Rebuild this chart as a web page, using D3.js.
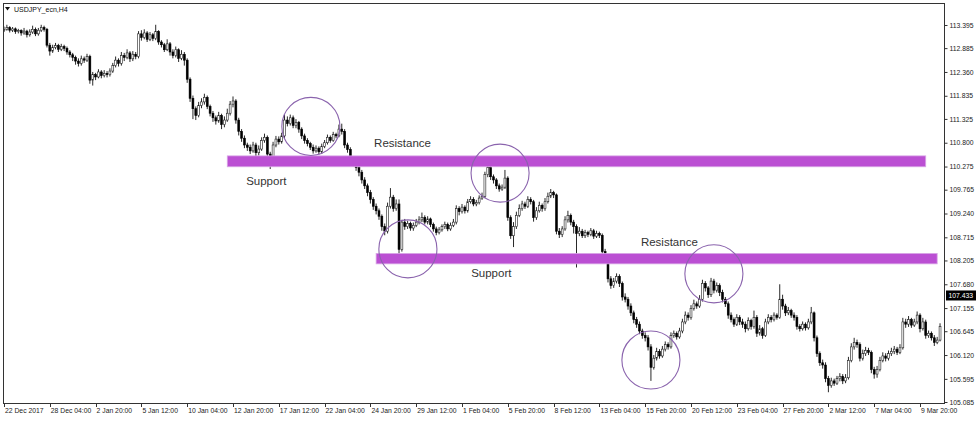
<!DOCTYPE html>
<html>
<head>
<meta charset="utf-8">
<script src="https://cdn.jsdelivr.net/npm/d3@7"></script>
<style>
html,body{margin:0;padding:0;background:#fff;}
svg{display:block;}
</style>
</head>
<body>
<svg id="chart" width="979" height="421"></svg>
<script>
// ---- data (USDJPY_ecn, H4) ----
const symbolTitle = "USDJPY_ecn,H4";
const firstOpen = 113.28;
const closes = [
113.30,113.34,113.28,113.31,113.25,113.27,113.22,113.26,113.18,113.24,
113.30,113.20,113.28,113.34,113.30,112.95,112.82,112.90,112.94,112.86,
112.92,112.88,112.80,112.74,112.68,112.60,112.55,112.65,112.62,112.70,
112.18,112.30,112.25,112.36,112.28,112.33,112.30,112.38,112.50,112.62,
112.55,112.72,112.68,112.78,112.65,112.75,112.70,113.20,113.12,113.22,
113.08,113.18,113.10,113.25,113.02,112.96,112.85,112.98,112.80,112.72,
112.85,112.66,112.75,112.62,112.20,111.78,111.55,111.40,111.62,111.70,
111.80,111.60,111.45,111.35,111.28,111.40,111.20,111.30,111.45,111.65,
111.72,111.30,111.05,110.90,110.75,110.70,110.62,110.75,110.58,110.66,
110.85,110.92,110.55,110.40,110.75,110.88,110.82,110.95,111.30,111.22,
111.35,111.18,111.25,111.10,110.95,110.85,110.78,110.70,110.62,110.68,
110.60,110.72,110.80,110.92,110.85,110.98,110.95,111.10,111.05,110.75,
110.65,110.45,110.35,110.25,110.15,109.98,109.85,109.70,109.55,109.40,
109.30,109.18,108.95,108.85,109.40,109.60,109.35,109.45,108.45,109.05,
108.95,109.02,108.92,108.98,109.05,109.10,109.15,109.05,109.12,109.00,
108.90,108.82,108.88,108.95,109.00,108.90,108.98,109.05,109.35,109.28,
109.38,109.30,109.50,109.55,109.45,109.48,109.58,109.62,110.10,110.25,
110.05,109.98,109.85,109.78,109.82,110.02,109.15,108.75,108.95,109.20,
109.35,109.45,109.40,109.55,109.50,109.15,109.30,109.42,109.35,109.50,
109.62,109.70,109.65,108.85,108.78,108.90,109.10,109.20,109.05,108.95,
108.80,108.85,108.75,108.82,108.78,108.86,108.74,108.80,108.76,108.40,
108.30,107.80,107.65,107.75,107.85,107.70,107.40,107.35,107.20,107.05,
106.90,106.80,106.65,106.55,106.50,106.30,105.85,106.05,106.20,106.10,
106.25,106.35,106.30,106.55,106.60,106.52,106.65,106.85,107.00,106.95,
107.15,107.25,107.20,107.35,107.70,107.60,107.45,107.75,107.55,107.65,
107.50,107.35,107.25,107.00,106.90,106.80,106.95,106.85,106.80,106.70,
106.88,106.75,106.95,106.60,106.70,106.55,106.85,106.95,106.90,107.00,
106.95,107.35,107.20,107.05,107.10,107.00,106.95,106.75,106.70,106.80,
106.72,106.85,107.05,106.50,106.15,105.95,105.90,105.60,105.45,105.55,
105.50,105.60,105.65,105.55,105.62,106.00,106.30,106.40,106.35,106.05,
106.15,106.22,106.18,105.80,105.70,105.80,106.00,106.10,106.05,106.15,
106.20,106.25,106.18,106.28,106.85,106.80,106.90,106.78,106.85,107.00,
106.70,106.85,106.55,106.60,106.50,106.40,106.45,106.75
];
const highs = [
113.36,113.40,113.37,113.35,113.34,113.31,113.30,113.33,113.29,113.30,
113.38,113.34,113.33,113.40,113.38,113.33,113.00,112.96,113.00,112.98,
112.98,112.96,112.92,112.84,112.78,112.72,112.66,112.72,112.70,112.76,
112.74,112.36,112.34,112.42,112.40,112.40,112.38,112.44,112.56,112.70,
112.66,112.80,112.78,112.86,112.82,112.82,112.80,113.26,113.28,113.30,
113.26,113.24,113.22,113.40,113.28,113.06,113.00,113.08,113.02,112.86,
112.92,112.88,112.84,112.80,112.66,112.24,111.84,111.60,111.70,111.78,
111.88,111.84,111.64,111.50,111.40,111.48,111.44,111.38,111.55,111.72,
111.82,111.76,111.35,111.10,110.96,110.80,110.76,110.82,110.80,110.74,
110.92,111.00,110.96,110.60,110.82,110.95,110.94,111.02,111.42,111.38,
111.42,111.40,111.32,111.28,111.14,111.00,110.90,110.82,110.76,110.74,
110.72,110.78,110.86,110.98,110.96,111.04,111.02,111.20,111.22,111.10,
110.80,110.70,110.50,110.40,110.30,110.20,110.04,109.90,109.76,109.60,
109.46,109.35,109.22,109.02,109.48,109.80,109.65,109.55,109.55,109.10,
109.12,109.08,109.06,109.04,109.12,109.18,109.26,109.20,109.18,109.15,
109.04,108.95,108.94,109.00,109.06,109.04,109.04,109.12,109.42,109.40,
109.45,109.42,109.56,109.62,109.60,109.54,109.64,109.70,110.16,110.40,
110.30,110.10,110.02,109.90,109.88,110.20,110.06,109.20,109.05,109.28,
109.44,109.52,109.50,109.62,109.60,109.54,109.38,109.50,109.46,109.58,
109.70,109.78,109.74,109.68,108.92,108.96,109.18,109.30,109.24,109.10,
109.00,108.94,108.90,108.88,108.86,108.92,108.90,108.86,108.84,108.80,
108.46,108.34,107.86,107.82,107.92,107.90,107.74,107.48,107.40,107.26,
107.10,106.96,106.86,106.70,106.62,106.56,106.36,106.12,106.28,106.25,
106.32,106.42,106.40,106.62,106.66,106.64,106.72,106.92,107.08,107.06,
107.22,107.34,107.30,107.44,107.78,107.75,107.64,107.82,107.80,107.72,
107.70,107.56,107.40,107.30,107.06,106.95,107.02,107.00,106.92,106.86,
106.95,106.92,107.10,107.00,106.78,106.74,106.92,107.02,107.00,107.06,
107.04,107.68,107.45,107.25,107.18,107.14,107.06,107.00,106.80,106.86,
106.84,106.92,107.18,107.08,106.55,106.20,106.02,105.96,105.66,105.62,
105.60,105.66,105.72,105.70,105.70,106.08,106.38,106.50,106.46,106.40,
106.24,106.30,106.28,106.22,105.86,105.88,106.08,106.18,106.16,106.22,
106.28,106.32,106.30,106.36,106.94,106.92,106.98,106.94,106.92,107.08,
107.04,106.94,106.90,106.66,106.64,106.56,106.52,106.82
];
const lows = [
113.24,113.27,113.23,113.24,113.20,113.21,113.16,113.18,113.12,113.14,
113.20,113.15,113.16,113.24,113.25,112.90,112.72,112.78,112.86,112.80,
112.82,112.82,112.74,112.68,112.60,112.52,112.48,112.50,112.56,112.58,
112.10,112.06,112.18,112.22,112.22,112.24,112.24,112.26,112.34,112.46,
112.48,112.50,112.60,112.64,112.58,112.60,112.64,112.66,113.05,113.08,
113.02,113.04,113.04,113.06,112.96,112.90,112.80,112.82,112.72,112.66,
112.68,112.58,112.62,112.50,112.12,111.70,111.32,111.30,111.36,111.56,
111.64,111.54,111.38,111.26,111.20,111.24,111.10,111.14,111.26,111.40,
111.58,111.22,110.96,110.82,110.68,110.62,110.55,110.58,110.50,110.52,
110.62,110.80,110.48,110.22,110.36,110.70,110.76,110.78,110.90,111.16,
111.18,111.12,111.12,111.02,110.88,110.78,110.72,110.64,110.56,110.58,
110.54,110.56,110.68,110.76,110.80,110.82,110.90,110.92,110.98,110.68,
110.58,110.38,110.28,110.18,110.06,109.90,109.78,109.62,109.46,109.32,
109.22,109.10,108.86,108.76,108.80,109.35,109.28,109.30,108.30,108.40,
108.88,108.90,108.86,108.86,108.94,109.00,109.05,109.00,109.00,108.94,
108.84,108.76,108.78,108.84,108.90,108.85,108.86,108.94,109.00,109.20,
109.24,109.24,109.26,109.46,109.40,109.40,109.44,109.54,109.58,110.04,
109.98,109.90,109.78,109.72,109.74,109.78,109.08,108.68,108.50,108.90,
109.16,109.30,109.34,109.36,109.44,109.06,109.10,109.26,109.28,109.30,
109.46,109.58,109.58,108.78,108.70,108.72,108.86,109.04,108.98,108.80,
108.05,108.74,108.70,108.70,108.72,108.74,108.68,108.70,108.70,108.32,
108.20,107.72,107.58,107.60,107.70,107.62,107.32,107.28,107.12,106.98,
106.82,106.72,106.58,106.48,106.42,106.22,105.55,105.80,106.00,106.04,
106.06,106.20,106.24,106.26,106.50,106.46,106.48,106.60,106.80,106.88,
106.90,107.10,107.14,107.16,107.30,107.52,107.38,107.40,107.48,107.50,
107.42,107.28,107.18,106.92,106.84,106.74,106.76,106.78,106.72,106.62,
106.66,106.68,106.70,106.52,106.55,106.48,106.52,106.80,106.84,106.86,
106.90,106.92,107.12,106.98,107.00,106.94,106.88,106.68,106.64,106.66,
106.66,106.68,106.80,106.42,106.08,105.88,105.82,105.52,105.30,105.40,
105.44,105.46,105.54,105.48,105.50,105.58,105.96,106.24,106.28,105.98,
106.00,106.10,106.12,105.72,105.60,105.62,105.76,105.96,105.98,106.00,
106.10,106.14,106.12,106.14,106.24,106.72,106.74,106.72,106.74,106.80,
106.62,106.66,106.48,106.50,106.44,106.32,106.36,106.42
];
const yTickValues = [113.395,112.885,112.360,111.835,111.325,110.800,110.275,109.765,109.240,108.715,108.205,107.680,107.155,106.645,106.120,105.595,105.085];
const xTickLabels = ["22 Dec 2017","28 Dec 04:00","2 Jan 20:00","5 Jan 12:00","10 Jan 04:00","12 Jan 20:00","17 Jan 12:00","22 Jan 04:00","24 Jan 20:00","29 Jan 12:00","1 Feb 04:00","5 Feb 20:00","8 Feb 12:00","13 Feb 04:00","15 Feb 20:00","20 Feb 12:00","23 Feb 04:00","27 Feb 20:00","2 Mar 12:00","7 Mar 04:00","9 Mar 20:00"];
const barsPerLabel = 16;
const lastPrice = 107.433;
// support / resistance zones: [price low, price high], start / end bars
const zonePrices = [[110.27, 110.51], [108.13, 108.36]];
const zoneStartBars = [78, 130];
const zoneEndBars = [322, 326];
const annotations = [
  {text:"Resistance", bar:129.3, price:110.70},
  {text:"Support", bar:84.6, price:109.86},
  {text:"Support", bar:163.2, price:107.85},
  {text:"Resistance", bar:222.5, price:108.52}
];
// circled turning points: [bar, price]
const circleCenters = [[107.2, 111.16], [141.1, 108.46], [173.3, 110.13], [226, 106.01], [248, 107.91]];

// ---- drawing ----
(function draw() {
const svg = d3.select("#chart");
const W = 979, H = 421;
const pLeft = 3, pRight = 944, pTop = 3, pBottom = 403;
const fontFam = "'Liberation Sans', Arial, sans-serif";

svg.append("rect").attr("width", W).attr("height", H).attr("fill", "#fff");

const x = d3.scaleLinear().domain([0, 320]).range([4, 920]);
const y = d3.scaleLinear().domain([105.085, 113.395]).range([402, 25]);
const pxPerUnit = y(105) - y(106);

const opens = closes.map((c, i) => i === 0 ? firstOpen : closes[i - 1]);
const bars = closes.map((c, i) => ({i, o: opens[i], h: highs[i], l: lows[i], c}));

svg.append("defs").append("clipPath").attr("id", "plotclip")
  .append("rect").attr("x", pLeft).attr("y", pTop).attr("width", pRight - pLeft).attr("height", pBottom - pTop);

const plot = svg.append("g").attr("clip-path", "url(#plotclip)");

// candles
const g = plot.append("g");
g.selectAll("line.wick").data(bars).join("line")
  .attr("class", "wick")
  .attr("x1", d => x(d.i)).attr("x2", d => x(d.i))
  .attr("y1", d => y(d.h)).attr("y2", d => y(d.l))
  .attr("stroke", "#111").attr("stroke-width", 0.9);
const bw = 1.9;
g.selectAll("rect.body").data(bars).join("rect")
  .attr("class", "body")
  .attr("x", d => x(d.i) - bw / 2)
  .attr("width", bw)
  .attr("y", d => y(Math.max(d.o, d.c)))
  .attr("height", d => Math.max(0.8, Math.abs(y(d.o) - y(d.c))))
  .attr("fill", d => d.c >= d.o ? "#fff" : "#000")
  .attr("stroke", d => d.c >= d.o ? "#222" : "#000")
  .attr("stroke-width", 0.6);

// zones
zonePrices.forEach((z, k) => {
  svg.append("rect")
    .attr("x", x(zoneStartBars[k]))
    .attr("y", y(z[1]))
    .attr("width", x(zoneEndBars[k]) - x(zoneStartBars[k]))
    .attr("height", y(z[0]) - y(z[1]))
    .attr("fill", "#bb4fd3")
    .attr("stroke", "#d9a6e6")
    .attr("stroke-width", 0.8);
});

// circles
svg.selectAll("circle.mark").data(circleCenters).join("circle")
  .attr("class", "mark")
  .attr("cx", d => x(d[0]))
  .attr("cy", d => y(d[1]))
  .attr("r", 0.64 * pxPerUnit)
  .attr("fill", "none")
  .attr("stroke", "#8a63ad")
  .attr("stroke-width", 1.1);

// annotations
svg.selectAll("text.ann").data(annotations).join("text")
  .attr("class", "ann")
  .attr("x", d => x(d.bar))
  .attr("y", d => y(d.price))
  .attr("font-family", fontFam)
  .attr("font-size", 11.5)
  .attr("fill", "#333")
  .text(d => d.text);

// frame
svg.append("rect")
  .attr("x", pLeft + 0.5).attr("y", pTop + 0.5)
  .attr("width", pRight - pLeft).attr("height", pBottom - pTop)
  .attr("fill", "none").attr("stroke", "#333").attr("stroke-width", 1);

// right price axis
const yAxis = d3.axisRight(y).tickValues(yTickValues).tickSize(3).tickPadding(2)
  .tickFormat(d3.format(".3f"));
const ya = svg.append("g").attr("transform", `translate(${pRight + 0.5},0)`).call(yAxis);
ya.select(".domain").remove();
ya.selectAll("line").attr("stroke", "#333");
ya.selectAll("text").attr("font-family", fontFam).attr("font-size", 6.8).attr("fill", "#222");

// current price label
const lp = svg.append("g").attr("transform", `translate(946,${y(lastPrice)})`);
lp.append("rect").attr("x", 0).attr("y", -5).attr("width", 30).attr("height", 10).attr("fill", "#000");
lp.append("text").attr("x", 2.5).attr("y", 0).attr("dy", "0.35em")
  .attr("font-family", fontFam).attr("font-size", 6.8).attr("fill", "#fff").text(d3.format(".3f")(lastPrice));

// bottom time axis
const xLabelBars = xTickLabels.map((t, k) => k * barsPerLabel);
const xa = svg.append("g");
xa.selectAll("line").data(xLabelBars).join("line")
  .attr("x1", d => Math.max(pLeft + 0.5, Math.round(x(d)) + 0.5))
  .attr("x2", d => Math.max(pLeft + 0.5, Math.round(x(d)) + 0.5))
  .attr("y1", pBottom).attr("y2", pBottom + 4)
  .attr("stroke", "#333");
xa.selectAll("text").data(xTickLabels).join("text")
  .attr("x", (t, k) => Math.max(pLeft, x(xLabelBars[k])) + 1)
  .attr("y", 413)
  .attr("font-family", fontFam).attr("font-size", 6.8).attr("fill", "#222")
  .text(t => t);

// title
svg.append("path").attr("d", "M5,7 L10,7 L7.5,10.5 Z").attr("fill", "#111");
svg.append("text").attr("x", 14).attr("y", 11.5)
  .attr("font-family", fontFam).attr("font-size", 7).attr("fill", "#111")
  .text(symbolTitle);
})();
</script>
</body>
</html>
